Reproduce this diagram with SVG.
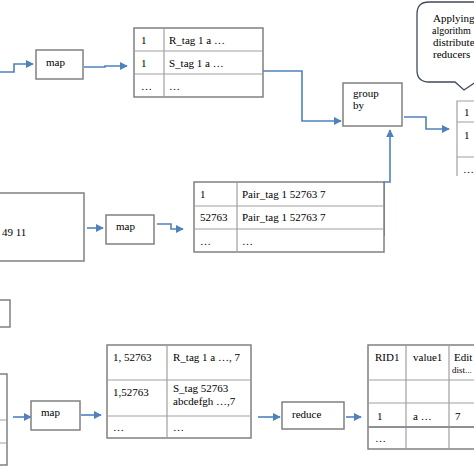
<svg xmlns="http://www.w3.org/2000/svg" width="474" height="474" viewBox="0 0 474 474">
<style>
.box{fill:#fff;stroke:#808080;stroke-width:1.5}
.ln{stroke:#a0a0a0;stroke-width:1.2;fill:none}
.c{fill:none;stroke:#4f81bd;stroke-width:1.6}
text{font-family:"Liberation Serif","Times New Roman",serif;font-size:11px;fill:#000}
</style>
<defs>
<marker id="ah" viewBox="0 0 10 10" refX="9" refY="5" markerWidth="5" markerHeight="5" orient="auto">
<path d="M0,0 L10,5 L0,10 z" fill="#4f81bd"/>
</marker>
</defs>
<rect width="474" height="474" fill="#fff"/>

<g id="connectors">
<path class="c" d="M0,72 H14 V64 H33" marker-end="url(#ah)"/>
<path class="c" d="M84,67 H105 V66 H127" marker-end="url(#ah)"/>
<path class="c" d="M263,71 H302 V121 H341" marker-end="url(#ah)"/>
<path class="c" d="M404,117 H426 V129 H449" marker-end="url(#ah)"/>
<path class="c" d="M384,236 V182 H390 V130" marker-end="url(#ah)"/>
<path class="c" d="M87,228 H103" marker-end="url(#ah)"/>
<path class="c" d="M157,224 H171 V229 H183" marker-end="url(#ah)"/>
<path class="c" d="M13,417 H31" marker-end="url(#ah)"/>
<path class="c" d="M81,415 H101" marker-end="url(#ah)"/>
<path class="c" d="M258,417 H280" marker-end="url(#ah)"/>
<path class="c" d="M346,417 H361" marker-end="url(#ah)"/>
</g>

<g id="map1">
<rect class="box" x="36" y="50" width="47" height="29"/>
<text x="46" y="66">map</text>
</g>

<g id="table1">
<rect class="box" x="134" y="28" width="129" height="69"/>
<path class="ln" d="M164,28 V97 M134,51 H263 M134,74 H263"/>
<text x="141" y="44">1</text><text x="169" y="44">R_tag 1 a …</text>
<text x="141" y="67">1</text><text x="169" y="67">S_tag 1 a …</text>
<text x="141" y="90">…</text><text x="169" y="90">…</text>
</g>

<g id="groupby">
<rect class="box" x="343" y="83" width="59" height="43"/>
<text x="353" y="97">group</text>
<text x="353" y="109">by</text>
</g>

<g id="callout">
<path d="M429,2 H480 V82 H476 L464,90 L455,82 H429 Q417,82 417,70 V14 Q417,2 429,2 z" fill="#fff" stroke="#404a5a" stroke-width="1.3"/>
<text x="433" y="22">Applying</text>
<text x="432" y="34" style="font-size:10px">algorithm</text>
<text x="433" y="46">distribute</text>
<text x="433" y="58">reducers</text>
</g>

<g id="table_right">
<path class="ln" d="M457,176 V101 H476 M457,122 H476 M457,157 H476"/>
<text x="464" y="116">1</text>
<text x="464" y="139">1</text>
<text x="463" y="173">…</text>
</g>

<g id="input_mid">
<rect class="box" x="-5" y="193" width="89" height="68"/>
<text x="2" y="236">49 11</text>
</g>

<g id="map2">
<rect class="box" x="106" y="215" width="48" height="29"/>
<text x="116" y="230">map</text>
</g>

<g id="table2">
<rect class="box" x="194" y="182" width="190" height="70"/>
<path class="ln" d="M237,182 V252 M194,206 H384 M194,229 H384"/>
<text x="200" y="198">1</text><text x="242" y="198">Pair_tag 1 52763 7</text>
<text x="200" y="221">52763</text><text x="242" y="221">Pair_tag 1 52763 7</text>
<text x="200" y="245">…</text><text x="242" y="245">…</text>
</g>

<g id="small_box">
<rect class="box" x="-5" y="300" width="15" height="27"/>
</g>

<g id="table_left_bottom">
<rect class="box" x="-5" y="374" width="12" height="91"/>
<path class="ln" d="M-5,420 H7 M-5,443 H7"/>
</g>

<g id="map3">
<rect class="box" x="31" y="401" width="49" height="29"/>
<text x="41" y="416">map</text>
</g>

<g id="table3">
<rect class="box" x="107" y="345" width="144" height="93"/>
<path class="ln" d="M167,345 V438 M107,380 H251 M107,416 H251"/>
<text x="113" y="361">1, 52763</text><text x="173" y="361">R_tag 1 a …, 7</text>
<text x="113" y="396">1,52763</text><text x="173" y="392">S_tag 52763</text>
<text x="173" y="405">abcdefgh …,7</text>
<text x="113" y="431">…</text><text x="173" y="431">…</text>
</g>

<g id="reduce">
<rect class="box" x="282" y="402" width="62" height="27"/>
<text x="292" y="418">reduce</text>
</g>

<g id="table4">
<rect class="box" x="368" y="345" width="120" height="104"/>
<path class="ln" d="M406,345 V449 M449,345 V449 M368,380 H476 M368,403 H476"/>
<path d="M368,427 H476" stroke="#909090" stroke-width="2"/>
<text x="375" y="361">RID1</text><text x="413" y="361">value1</text><text x="454" y="361">Edit</text>
<text x="452" y="373" style="font-size:9px">dist...</text>
<text x="377" y="420">1</text><text x="413" y="420">a …</text><text x="455" y="420">7</text>
<text x="375" y="442">…</text>
</g>
</svg>
